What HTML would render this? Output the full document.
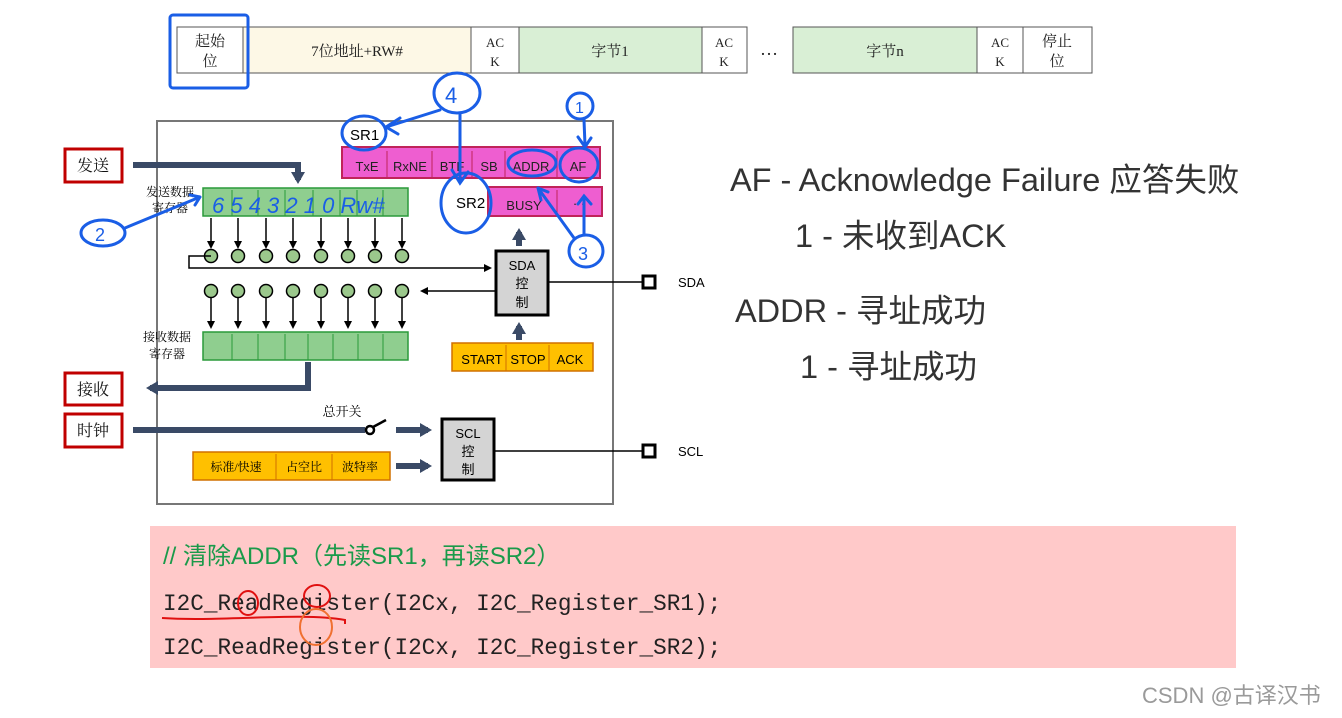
<!DOCTYPE html>
<html><head><meta charset="utf-8"><style>
body{margin:0;background:#fff;width:1342px;height:718px;overflow:hidden}
svg{display:block}
.s{font-family:"Liberation Serif","Noto Serif CJK SC",serif}
.a{font-family:"Liberation Sans","Noto Sans CJK SC",sans-serif}
.m{font-family:"Liberation Mono","Noto Sans CJK SC",monospace}
</style></head><body>
<svg width="1342" height="718" viewBox="0 0 1342 718" xmlns="http://www.w3.org/2000/svg">
<defs>
<marker id="ah" markerWidth="8" markerHeight="8" refX="6" refY="4" orient="auto" markerUnits="userSpaceOnUse"><path d="M0,0 L8,4 L0,8z" fill="#000"/></marker>
<marker id="bh" markerWidth="14" markerHeight="14" refX="8" refY="7" orient="auto" markerUnits="userSpaceOnUse"><path d="M0,0 L12,7 L0,14z" fill="#3a4a66"/></marker>
</defs>
<g stroke="#555" stroke-width="1">
<rect x="177" y="27" width="66" height="46" fill="#fff"/>
<rect x="243" y="27" width="228" height="46" fill="#fdf8e6"/>
<rect x="471" y="27" width="48" height="46" fill="#fff"/>
<rect x="519" y="27" width="183" height="46" fill="#d9efd5"/>
<rect x="702" y="27" width="45" height="46" fill="#fff"/>
<rect x="793" y="27" width="184" height="46" fill="#d9efd5"/>
<rect x="977" y="27" width="46" height="46" fill="#fff"/>
<rect x="1023" y="27" width="69" height="46" fill="#fff"/>
</g>
<g class="s" font-size="15" text-anchor="middle" fill="#222">
<text x="210" y="46">起始</text><text x="210" y="66">位</text>
<text x="357" y="56">7位地址+RW#</text>
<text x="495" y="47" font-size="13">AC</text><text x="495" y="66" font-size="13">K</text>
<text x="610" y="56">字节1</text>
<text x="724" y="47" font-size="13">AC</text><text x="724" y="66" font-size="13">K</text>
<text x="769" y="55" font-size="18">…</text>
<text x="885" y="56">字节n</text>
<text x="1000" y="47" font-size="13">AC</text><text x="1000" y="66" font-size="13">K</text>
<text x="1057" y="46">停止</text><text x="1057" y="66">位</text>
</g>
<rect x="170" y="15" width="78" height="73" fill="none" stroke="#1a5ee6" stroke-width="3" rx="3"/>

<rect x="157" y="121" width="456" height="383" fill="#fff" stroke="#777" stroke-width="2"/>

<g fill="#fff" stroke="#c00000" stroke-width="3">
<rect x="65" y="149" width="57" height="33"/><rect x="65" y="373" width="57" height="32"/><rect x="65" y="414" width="57" height="33"/>
</g>
<g class="s" font-size="16" text-anchor="middle" fill="#111">
<text x="93" y="171">发送</text><text x="93" y="395">接收</text><text x="93" y="436">时钟</text>
</g>

<g stroke="#3a4a66" stroke-width="6" fill="none">
<path d="M133,165 H298 V180" marker-end="url(#bh)"/>
<path d="M308,362 V388 H150" marker-end="url(#bh)"/>
<path d="M133,430 H365"/>
<path d="M396,430 H428" marker-end="url(#bh)"/>
<path d="M396,466 H428" marker-end="url(#bh)"/>
<path d="M519,246 V232" marker-end="url(#bh)"/>
<path d="M519,340 V326" marker-end="url(#bh)"/>
</g>
<circle cx="370" cy="430" r="4" fill="#fff" stroke="#000" stroke-width="2.5"/>
<line x1="373" y1="427" x2="386" y2="420" stroke="#000" stroke-width="2.5"/>
<text x="342" y="416" class="s" font-size="13" text-anchor="middle">总开关</text>

<rect x="342" y="147" width="258" height="31" fill="#ee5ed0" stroke="#c0245a" stroke-width="2"/>
<g stroke="#c0245a" stroke-width="1"><line x1="387" y1="151" x2="387" y2="178"/><line x1="432" y1="151" x2="432" y2="178"/><line x1="472" y1="151" x2="472" y2="178"/><line x1="505" y1="151" x2="505" y2="178"/><line x1="557" y1="151" x2="557" y2="178"/></g>
<g class="a" font-size="13" fill="#222" text-anchor="middle">
<text x="367" y="171">TxE</text><text x="410" y="171">RxNE</text><text x="452" y="171">BTF</text><text x="489" y="171">SB</text><text x="531" y="171">ADDR</text><text x="578" y="171">AF</text>
</g>
<rect x="488" y="187" width="114" height="29" fill="#ee5ed0" stroke="#c0245a" stroke-width="2"/>
<line x1="557" y1="190" x2="557" y2="216" stroke="#c0245a"/>
<text x="524" y="210" class="a" font-size="13" fill="#222" text-anchor="middle">BUSY</text>
<text x="579" y="208" class="a" font-size="13" fill="#222" text-anchor="middle">· ·</text>

<rect x="203" y="188" width="205" height="28" fill="#8fce8f" stroke="#2a9a3a" stroke-width="1.5"/>
<g stroke="#2a9a3a"><line x1="232" y1="190" x2="232" y2="216"/><line x1="258" y1="190" x2="258" y2="216"/><line x1="285" y1="190" x2="285" y2="216"/><line x1="313" y1="190" x2="313" y2="216"/><line x1="340" y1="190" x2="340" y2="216"/><line x1="357" y1="190" x2="357" y2="216"/><line x1="383" y1="190" x2="383" y2="216"/></g>
<text x="170" y="196" class="s" font-size="12" text-anchor="middle">发送数据</text>
<text x="170" y="212" class="s" font-size="12" text-anchor="middle">寄存器</text>
<rect x="203" y="332" width="205" height="28" fill="#8fce8f" stroke="#2a9a3a" stroke-width="1.5"/>
<g stroke="#2a9a3a"><line x1="232" y1="334" x2="232" y2="360"/><line x1="258" y1="334" x2="258" y2="360"/><line x1="285" y1="334" x2="285" y2="360"/><line x1="308" y1="334" x2="308" y2="360"/><line x1="333" y1="334" x2="333" y2="360"/><line x1="358" y1="334" x2="358" y2="360"/><line x1="383" y1="334" x2="383" y2="360"/></g>
<text x="167" y="341" class="s" font-size="12" text-anchor="middle">接收数据</text>
<text x="167" y="358" class="s" font-size="12" text-anchor="middle">寄存器</text>

<g stroke="#000" stroke-width="1.5">
<g id="col">
<line x1="211" y1="218" x2="211" y2="247" marker-end="url(#ah)"/>
<circle cx="211" cy="256" r="6.5" fill="#9bc88c"/>
<circle cx="211" cy="291" r="6.5" fill="#9bc88c"/>
<line x1="211" y1="298" x2="211" y2="327" marker-end="url(#ah)"/>
</g>
<use href="#col" x="27"/><use href="#col" x="55"/><use href="#col" x="82"/><use href="#col" x="110"/><use href="#col" x="137"/><use href="#col" x="164"/><use href="#col" x="191"/>
<path d="M211,256 H189 V268 H490" fill="none" marker-end="url(#ah)"/>
<line x1="495" y1="291" x2="422" y2="291" marker-end="url(#ah)"/>
<line x1="548" y1="282" x2="643" y2="282"/>
<line x1="494" y1="451" x2="643" y2="451"/>
</g>
<rect x="643" y="276" width="12" height="12" fill="#fff" stroke="#000" stroke-width="3"/>
<rect x="643" y="445" width="12" height="12" fill="#fff" stroke="#000" stroke-width="3"/>
<text x="678" y="287" class="a" font-size="13">SDA</text>
<text x="678" y="456" class="a" font-size="13">SCL</text>

<rect x="496" y="251" width="52" height="64" fill="#d4d4d4" stroke="#000" stroke-width="3"/>
<g class="a" font-size="13" text-anchor="middle"><text x="522" y="270">SDA</text><text x="522" y="288">控</text><text x="522" y="307">制</text></g>
<rect x="442" y="419" width="52" height="61" fill="#d4d4d4" stroke="#000" stroke-width="3"/>
<g class="a" font-size="13" text-anchor="middle"><text x="468" y="438">SCL</text><text x="468" y="456">控</text><text x="468" y="474">制</text></g>

<rect x="452" y="343" width="141" height="28" fill="#ffc000" stroke="#d07000" stroke-width="1.5"/>
<g stroke="#d07000"><line x1="506" y1="345" x2="506" y2="371"/><line x1="549" y1="345" x2="549" y2="371"/></g>
<g class="a" font-size="13" text-anchor="middle"><text x="482" y="364">START</text><text x="528" y="364">STOP</text><text x="570" y="364">ACK</text></g>
<rect x="193" y="452" width="197" height="28" fill="#ffc000" stroke="#d07000" stroke-width="1.5"/>
<g stroke="#d07000"><line x1="276" y1="454" x2="276" y2="480"/><line x1="332" y1="454" x2="332" y2="480"/></g>
<g class="s" font-size="12" text-anchor="middle"><text x="236" y="471">标准/快速</text><text x="304" y="471">占空比</text><text x="360" y="471">波特率</text></g>

<text x="350" y="140" class="a" font-size="15">SR1</text>
<text x="456" y="208" class="a" font-size="15">SR2</text>

<g fill="none" stroke="#1a5ee6" stroke-width="3" stroke-linecap="round">
<ellipse cx="364" cy="133" rx="22" ry="17"/>
<ellipse cx="466" cy="203" rx="25" ry="30"/>
<ellipse cx="457" cy="93" rx="23" ry="20"/>
<path d="M440,110 L386,127 M386,127 L400,118 M386,127 L398,134"/>
<path d="M460,113 L460,180 M452,170 L460,183 L468,172"/>
<ellipse cx="580" cy="106" rx="13" ry="13"/>
<path d="M584,120 L585,145 M578,137 L585,147 L591,138"/>
<ellipse cx="579" cy="165" rx="19" ry="17"/>
<ellipse cx="532" cy="163" rx="24" ry="13"/>
<ellipse cx="586" cy="251" rx="17" ry="16"/>
<path d="M584,235 L584,196 M578,204 L584,196 L591,204 M574,238 L538,188 M538,188 L541,200 M538,188 L548,192"/>
<ellipse cx="103" cy="233" rx="22" ry="13"/>
<path d="M125,228 L200,197 M200,197 L190,195 M200,197 L195,205"/>
<text x="212" y="213" stroke="none" fill="#1a5ee6" font-family="Liberation Sans" font-style="italic" font-size="22">6 5 4 3 2 1  0 Rw#</text>
<text x="575" y="113" stroke="none" fill="#1a5ee6" font-size="16" font-family="Liberation Sans">1</text>
<text x="445" y="103" stroke="none" fill="#1a5ee6" font-size="22" font-family="Liberation Sans">4</text>
<text x="578" y="260" stroke="none" fill="#1a5ee6" font-size="18" font-family="Liberation Sans">3</text>
<text x="95" y="241" stroke="none" fill="#1a5ee6" font-size="18" font-family="Liberation Sans">2</text>
</g>

<g class="a" fill="#333" font-size="32.5">
<text x="730" y="191">AF - Acknowledge Failure 应答失败</text>
<text x="795" y="247">1 - 未收到ACK</text>
<text x="735" y="322">ADDR - 寻址成功</text>
<text x="800" y="378">1 - 寻址成功</text>
</g>

<rect x="150" y="526" width="1086" height="142" fill="#ffc9c9"/>
<text x="163" y="564" class="a" font-size="24" fill="#1a9a4a">// 清除ADDR（先读SR1，再读SR2）</text>
<text x="163" y="610" class="m" font-size="22.7" fill="#222">I2C_ReadRegister(I2Cx, I2C_Register_SR1);</text>
<text x="163" y="654" class="m" font-size="22.7" fill="#222">I2C_ReadRegister(I2Cx, I2C_Register_SR2);</text>
<g fill="none" stroke-width="2">
<path d="M162,618 C220,622 300,612 345,620 L345,624" stroke="#e01010"/>
<ellipse cx="248" cy="603" rx="10" ry="12" stroke="#e01010"/>
<ellipse cx="317" cy="596" rx="13" ry="11" stroke="#e01010"/>
<ellipse cx="316" cy="627" rx="16" ry="18" stroke="#f07030"/>
</g>
<text x="1142" y="703" class="a" font-size="22" fill="#9a9a9a">CSDN @古译汉书</text>
</svg>
</body></html>
